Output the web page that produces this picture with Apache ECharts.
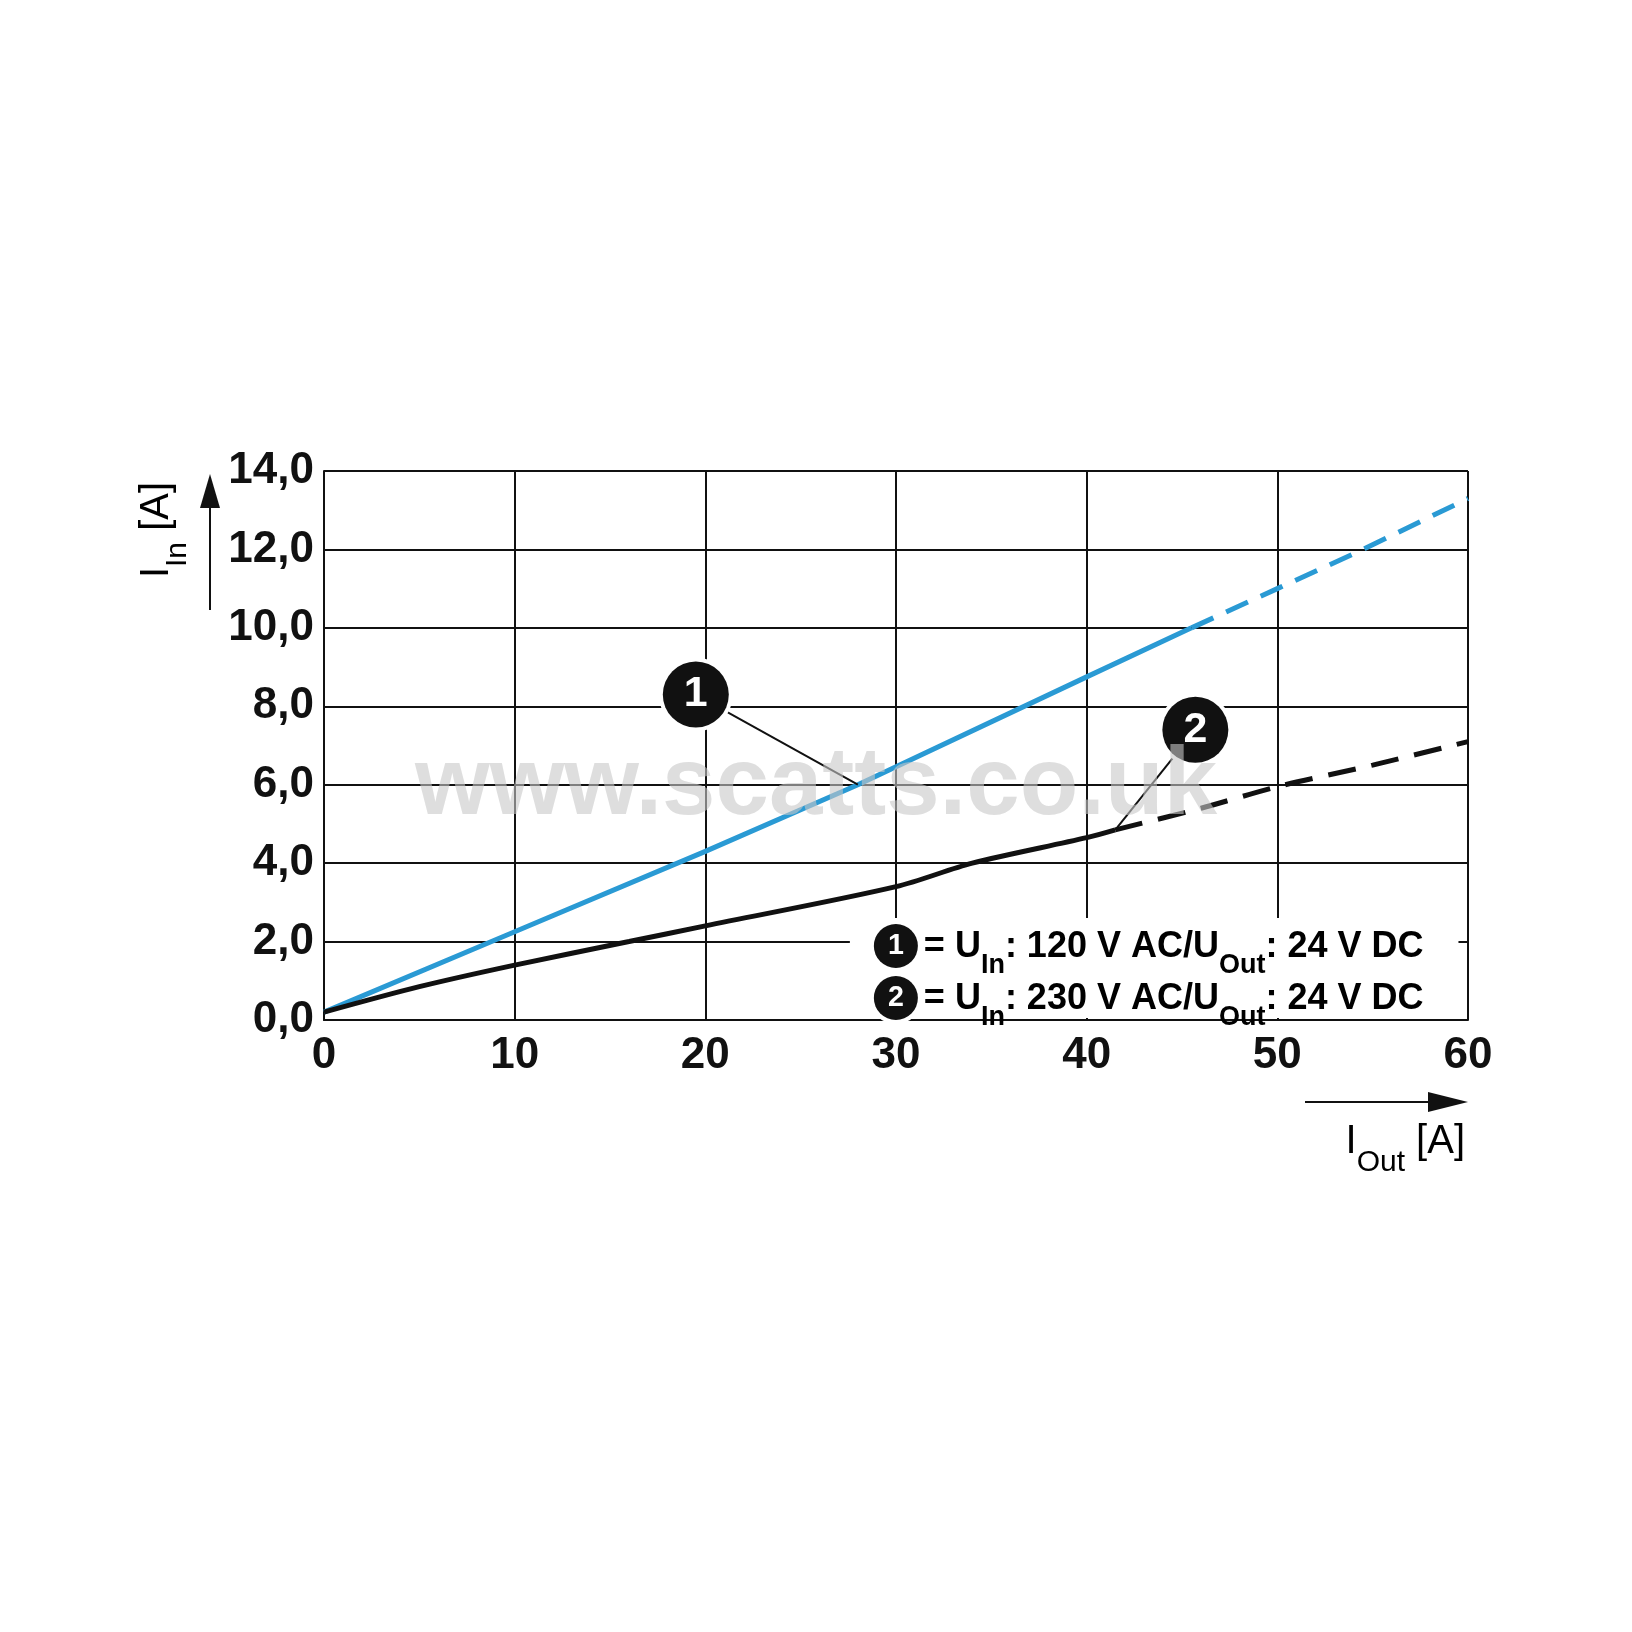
<!DOCTYPE html>
<html><head><meta charset="utf-8">
<script src="https://cdn.jsdelivr.net/npm/echarts@6/dist/echarts.min.js"></script>
<style>html,body{margin:0;background:#fff}#c{width:1632px;height:1632px}</style>
</head><body><div id="c"></div>
<script>
const xTicks = [0,10,20,30,40,50,60];
const blueSolid = [[0,0.2],[10,2.25],[20,4.3],[28,6.0],[40,8.75],[45.5,10.0]];
const blueDash = [[45.5,10.0],[50,11.0],[54.5,12.0],[60,13.3]];
const blackSolid = [[0,0.2],[5,0.85],[10,1.4],[16,2.0],[20,2.4],[30,3.4],[34,4.0],[40,4.65],[41.5,4.85]];
const blackDash = [[41.5,4.85],[46,5.4],[50,5.95],[55,6.5],[60,7.1]];
const legend1 = '120 V AC/U', legend2 = '230 V AC/U';
const chart = echarts.init(document.getElementById('c'));
const F = 'Liberation Sans';
chart.setOption({
  animation:false,
  grid:{left:324,top:471,width:1144,height:549},
  xAxis:{type:'value',min:0,max:60,interval:10,
    axisLine:{lineStyle:{color:'#111',width:2}},axisTick:{show:false},
    splitLine:{lineStyle:{color:'#111',width:2}},
    axisLabel:{color:'#111',fontFamily:F,fontWeight:'bold',fontSize:44,margin:14}},
  yAxis:{type:'value',min:0,max:14,interval:2,
    axisLine:{show:true,lineStyle:{color:'#111',width:2}},axisTick:{show:false},
    splitLine:{lineStyle:{color:'#111',width:2}},
    axisLabel:{color:'#111',fontFamily:F,fontWeight:'bold',fontSize:44,margin:10,formatter:v=>v.toFixed(1).replace('.',',')}},
  series:[
    {type:'line',data:blueSolid,symbol:'none',lineStyle:{color:'#2a9ad4',width:5},z:3},
    {type:'line',data:blueDash,symbol:'none',lineStyle:{color:'#2a9ad4',width:5,type:[24,14]},z:3},
    {type:'line',data:blackSolid,symbol:'none',smooth:0.3,lineStyle:{color:'#111',width:5},z:3},
    {type:'line',data:blackDash,symbol:'none',smooth:0.3,lineStyle:{color:'#111',width:5,type:[28,16]},z:3}
  ]
});
const p = (x,y)=>chart.convertToPixel({gridIndex:0},[x,y]);
const c1=p(19.5,8.3), t1=p(28,6.0), c2=p(45.7,7.4), t2=p(41.5,4.85);
const L = p(28,2.6), R = p(59.5,0.05);
const badge=(c,n,r)=>({type:'group',children:[
  {type:'circle',shape:{cx:c[0],cy:c[1],r:r+4},style:{fill:'#fff'},z:20},
  {type:'circle',shape:{cx:c[0],cy:c[1],r:r},style:{fill:'#111'},z:21},
  {type:'text',x:c[0],y:c[1],style:{text:n,fill:'#fff',font:'bold '+(r*1.3)+'px '+F,align:'center',verticalAlign:'middle'},z:22}]});
const rich={b:{fontSize:36,fontWeight:'bold',fontFamily:F,color:'#111',lineHeight:40,verticalAlign:'top'},s:{fontSize:27,fontWeight:'bold',fontFamily:F,color:'#111',lineHeight:50,verticalAlign:'bottom'}};
const richA={a:{fontSize:40,fontFamily:F,color:'#111',lineHeight:44,verticalAlign:'top'},s:{fontSize:30,fontFamily:F,color:'#111',lineHeight:56,verticalAlign:'bottom'}};
chart.setOption({graphic:[
  {type:'text',left:'center',top:740,style:{text:'www.scatts.co.uk',font:'bold 96px '+F,fill:'rgba(200,200,200,0.6)'},z:30},
  {type:'line',shape:{x1:c1[0],y1:c1[1],x2:t1[0],y2:t1[1]},style:{stroke:'#111',lineWidth:2},z:19},
  {type:'line',shape:{x1:c2[0],y1:c2[1],x2:t2[0],y2:t2[1]},style:{stroke:'#111',lineWidth:2},z:19},
  badge(c1,'1',33), badge(c2,'2',33),
  {type:'rect',shape:{x:L[0]-8,y:L[1],width:R[0]-L[0]+8,height:R[1]-L[1]},style:{fill:'#fff'},z:10},
  badge([L[0]+38,L[1]+28],'1',22), badge([L[0]+38,L[1]+80],'2',22),
  {type:'text',x:L[0]+66,y:L[1]+11,style:{text:'{b|= U}{s|In}{b|: '+legend1+'}{s|Out}{b|: 24 V DC}',rich:rich,verticalAlign:'top'},z:23},
  {type:'text',x:L[0]+66,y:L[1]+63,style:{text:'{b|= U}{s|In}{b|: '+legend2+'}{s|Out}{b|: 24 V DC}',rich:rich,verticalAlign:'top'},z:23},
  {type:'line',shape:{x1:210,y1:610,x2:210,y2:495},style:{stroke:'#111',lineWidth:2}},
  {type:'polygon',shape:{points:[[210,474],[200,508],[220,508]]},style:{fill:'#111'}},
  {type:'text',x:165,y:530,rotation:Math.PI/2,style:{text:'{a|I}{s|In}{a| [A]}',rich:richA,align:'center',verticalAlign:'middle'}},
  {type:'line',shape:{x1:1305,y1:1102,x2:1435,y2:1102},style:{stroke:'#111',lineWidth:2}},
  {type:'polygon',shape:{points:[[1468,1102],[1428,1092],[1428,1112]]},style:{fill:'#111'}},
  {type:'text',x:1465,y:1150,style:{text:'{a|I}{s|Out}{a| [A]}',rich:richA,align:'right',verticalAlign:'middle'}}
]});
</script></body></html>
